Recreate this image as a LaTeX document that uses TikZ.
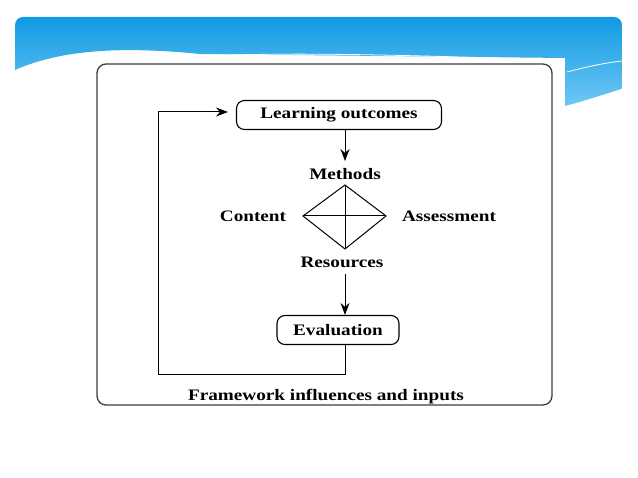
\documentclass[tikz,border=0pt]{standalone}
\usepackage{fontspec}
\usepackage{graphicx}
\setmainfont{Liberation Serif}
\usetikzlibrary{arrows.meta}
\newcommand{\wide}[1]{\scalebox{1.2}[1]{#1}}
\begin{document}
\begin{tikzpicture}[x=1pt,y=-1pt,
  lbl/.style={font=\bfseries\fontsize{16}{18}\selectfont, inner sep=1pt},
  boxn/.style={draw, line width=1.1pt, rounded corners=8pt, font=\bfseries\fontsize{16}{18}\selectfont, minimum height=29pt},
  ln/.style={line width=1pt},
  arr/.style={ln,-{Stealth[length=12pt,width=9pt]}}]
\useasboundingbox (0,0) rectangle (638,478);
\fill[white] (0,0) rectangle (638,478);
% banner
\begin{scope}
\clip[rounded corners=8pt] (15,17) rectangle (622,140);
\shade[top color={rgb,255:red,10;green,150;blue,225}, bottom color={rgb,255:red,110;green,200;blue,245}]
  (15,70) -- (15,10) -- (630,10) -- (630,86)
  .. controls (600,96) and (580,102) .. (565,106) -- (565,58) -- (200,54) .. controls (120,46) and (60,50) .. (15,70) -- cycle;
\end{scope}
\draw[white, line width=0.8pt] (200,56) .. controls (300,52) and (400,55) .. (560,60);
\draw[white, line width=0.8pt] (567,72) .. controls (590,66) and (605,63) .. (622,61);
\fill[white] (93,58) rectangle (565,418);
% frame
\draw[line width=1.3pt, rounded corners=9pt, draw={rgb,255:red,60;green,60;blue,60}] (97,64) rectangle (552,405);
\node[boxn, minimum width=205pt] (lo) at (339,115) {\wide{Learning outcomes}};
\node[lbl] (meth) at (345,174) {\wide{Methods}};
\coordinate (dt) at (345,185);
\coordinate (db) at (345,249);
\coordinate (dl) at (303,216);
\coordinate (dr) at (386,216);
\draw[ln] (dt) -- (dr) -- (db) -- (dl) -- cycle;
\draw[ln] (dt) -- (db) (dl) -- (dr);
\node[lbl] (cont) at (253,216) {\wide{Content}};
\node[lbl] (ass) at (449,216) {\wide{Assessment}};
\node[lbl] (res) at (342,262) {\wide{Resources}};
\node[boxn, minimum width=122pt] (ev) at (338,330) {\wide{Evaluation}};
\node[lbl] (fw) at (326,397) {\wide{Framework influences and inputs}};
\draw[arr] (lo.south -| dt) -- ++(0,31);
\draw[arr] (res.south -| dt) ++(0,5) -- (ev.north -| dt);
\coordinate (c1) at (345,375);
\coordinate (c2) at (158,375);
\coordinate (c3) at (158,112);
\draw[arr] (ev.south -| dt) -- (c1) -- (c2) -- (c3) -- (228,112);
\end{tikzpicture}
\end{document}
